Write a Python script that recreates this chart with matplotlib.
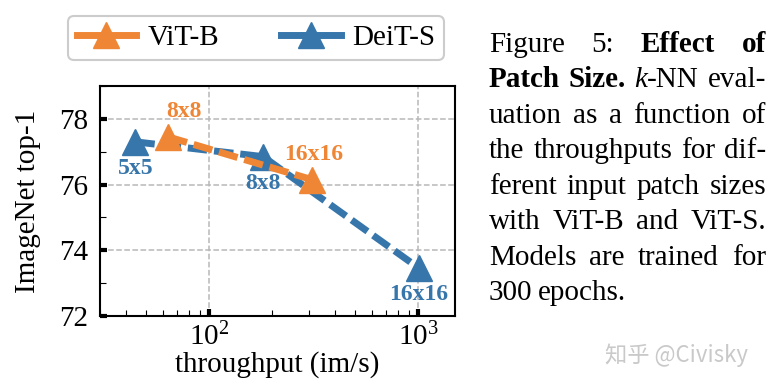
import matplotlib
matplotlib.use("Agg")
import matplotlib.pyplot as plt
from matplotlib.lines import Line2D
from matplotlib.ticker import MultipleLocator, LogLocator, NullFormatter

plt.rcParams["font.family"] = ["Liberation Serif", "DejaVu Serif"]
plt.rcParams["mathtext.fontset"] = "custom"
plt.rcParams["mathtext.rm"] = "Liberation Serif"
plt.rcParams["mathtext.it"] = "Liberation Serif:italic"
plt.rcParams["mathtext.bf"] = "Liberation Serif:bold"

# --- data ---
vitb_throughput = [63.7, 310]
vitb_top1 = [77.45, 76.15]
vitb_patch = ["8x8", "16x16"]

deit_throughput = [44.3, 181, 1010]
deit_top1 = [77.3, 76.85, 73.45]
deit_patch = ["5x5", "8x8", "16x16"]

series_names = ["ViT-B", "DeiT-S"]
y_ticks = [72, 74, 76, 78]

# label offsets (points) relative to each marker
vitb_offsets = [(11.5, 18.5), (1, 18)]
deit_offsets = [(0, -19), (0, -19), (0, -19)]

ORANGE = "#ef8636"
BLUE = "#3776ab"

fig = plt.figure(figsize=(7.74, 3.87), dpi=100)
ax = fig.add_axes([0.1292, 0.1835, 0.4587, 0.5943])

line_kw = dict(lw=5, dashes=(2.8, 1.0), marker="^", ms=19, mew=1)
ax.plot(deit_throughput, deit_top1, color=BLUE, mec=BLUE, **line_kw)
ax.plot(vitb_throughput, vitb_top1, color=ORANGE, mec=ORANGE, **line_kw)

for xs, ys, labs, offs, col in [
    (deit_throughput, deit_top1, deit_patch, deit_offsets, BLUE),
    (vitb_throughput, vitb_top1, vitb_patch, vitb_offsets, ORANGE),
]:
    for x, y, s, o in zip(xs, ys, labs, offs):
        ax.annotate(s, (x, y), xytext=o, textcoords="offset points",
                    ha="center", va="center", color=col, fontsize=17,
                    fontweight="bold", zorder=5)

ax.set_xscale("log")
ax.set_xlim(30, 1500)
ax.set_ylim(72, 79)
ax.set_yticks(y_ticks)
ax.yaxis.set_minor_locator(MultipleLocator(1))
ax.xaxis.set_minor_locator(LogLocator(subs=range(2, 10)))
ax.xaxis.set_minor_formatter(NullFormatter())

ax.tick_params(which="major", direction="in", length=5, width=3,
               labelsize=21, color="black")
ax.tick_params(which="minor", direction="in", length=4.5, width=0.8)
ax.tick_params(axis="y", which="major", pad=8.5)
ax.tick_params(axis="x", which="major", pad=5)
ax.grid(True, which="major", ls="--", color="#b8b8b8", lw=1.1)
ax.set_axisbelow(True)
for sp in ax.spines.values():
    sp.set_linewidth(1.5)

ax.set_xlabel("throughput (im/s)", fontsize=21, labelpad=0)
ax.set_ylabel("ImageNet top-1", fontsize=21, labelpad=13)

handles = [
    Line2D([], [], color=ORANGE, lw=5, marker="^", ms=19),
    Line2D([], [], color=BLUE, lw=5, marker="^", ms=19),
]
leg = fig.legend(handles, series_names, loc="center",
                 bbox_to_anchor=(0.3307, 0.9018), ncol=2, fontsize=21,
                 handlelength=2.05, handletextpad=0.4, columnspacing=2.1,
                 fancybox=True, framealpha=1, edgecolor="#cccccc",
                 borderpad=0.3)
leg.get_frame().set_linewidth(1.5)

# --- justified caption on the right ---
caption = [
    [[("Figure", "r")], [("5:", "r")], [("Effect", "b")], [("of", "b")]],
    [[("Patch", "b")], [("Size.", "b")], [("k", "i"), ("-NN", "r")], [("eval-", "r")]],
    [[("uation", "r")], [("as", "r")], [("a", "r")], [("function", "r")], [("of", "r")]],
    [[("the", "r")], [("throughputs", "r")], [("for", "r")], [("dif-", "r")]],
    [[("ferent", "r")], [("input", "r")], [("patch", "r")], [("sizes", "r")]],
    [[("with", "r")], [("ViT-B", "r")], [("and", "r")], [("ViT-S.", "r")]],
    [[("Models", "r")], [("are", "r")], [("trained", "r")], [("for", "r")]],
    [[("300", "r")], [("epochs.", "r")]],
]
W, H = 774.0, 387.0
x_left, x_right = 489.0, 766.0
base0, step = 51.7, 35.5
renderer = fig.canvas.get_renderer()


def piece(x, y, s, st):
    kw = dict(fontsize=21, va="baseline", ha="left", color="black")
    if st == "b":
        kw["fontweight"] = "bold"
    if st == "i":
        kw["fontstyle"] = "italic"
    return fig.text(x / W, 1 - y / H, s, **kw)


for li, words in enumerate(caption):
    yb = base0 + li * step
    texts, widths = [], []
    for w in words:
        ts = [piece(0, yb, s, st) for s, st in w]
        texts.append(ts)
        widths.append(sum(t.get_window_extent(renderer).width for t in ts))
    if li == len(caption) - 1 or len(words) == 1:
        gap = 5.5
    else:
        gap = (x_right - x_left - sum(widths)) / (len(words) - 1)
    x = x_left
    for ts, wd in zip(texts, widths):
        xx = x
        for t in ts:
            t.set_x(xx / W)
            xx += t.get_window_extent(renderer).width
        x += wd + gap

fig.text(605 / W, 1 - 355 / H, "知乎 @Civisky", fontsize=16, color="#c9c9c9",
         va="center", ha="left", family=["Noto Sans CJK SC", "DejaVu Sans"])

fig.savefig("out.png", dpi=100)
